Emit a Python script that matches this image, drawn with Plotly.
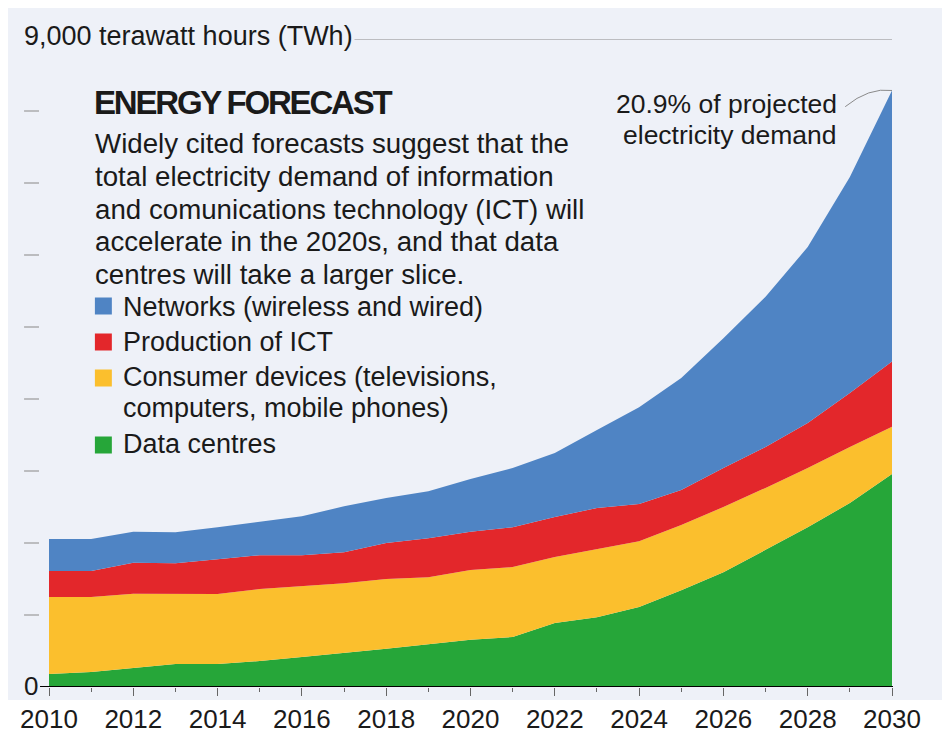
import plotly.graph_objects as go

# data (TWh)
years = list(range(2010, 2031))
data_centres = [180, 210, 265, 320, 320, 360, 415, 470, 530, 595, 655, 695, 890, 970, 1110, 1345, 1595, 1905, 2220, 2555, 2960]
consumer_devices = [1070, 1040, 1030, 970, 970, 1000, 985, 970, 970, 930, 970, 970, 915, 945, 915, 905, 905, 860, 820, 780, 655]
production_ict = [360, 360, 430, 430, 485, 470, 430, 430, 500, 540, 530, 555, 555, 570, 515, 485, 540, 570, 625, 750, 905]
networks = [445, 445, 430, 430, 445, 470, 540, 640, 625, 655, 735, 820, 890, 1085, 1345, 1555, 1805, 2085, 2445, 3000, 3765]

series_names = ["Data centres", "Consumer devices", "Production of ICT", "Networks"]
series_colors = ["#26A639", "#FBBF2D", "#E3272B", "#4F84C4"]

x_tick_years = list(range(2010, 2031, 2))
y_ticks = list(range(1000, 9000, 1000))

title = "ENERGY FORECAST"
intro_lines = [
    "Widely cited forecasts suggest that the",
    "total electricity demand of information",
    "and comunications technology (ICT) will",
    "accelerate in the 2020s, and that data",
    "centres will take a larger slice.",
]
legend_labels = [
    "Networks (wireless and wired)",
    "Production of ICT",
    "Consumer devices (televisions,",
    "computers, mobile phones)",
    "Data centres",
]
legend_colors = ["#4F84C4", "#E3272B", "#FBBF2D", "#26A639"]
note_lines = ["20.9% of projected", "electricity demand"]

BG = "#EEF1F8"
TXT = "#1a1a1a"
FONT = "Liberation Sans, Arial, sans-serif"

# the page adds an 8px margin around the figure
OFF = 8
W, H = 950 - OFF, 748 - OFF
L, T = 47 - OFF, 39 - OFF
PW, PH = 845, 648
R, B = W - L - PW, H - T - PH


def px(x):
    # page x -> paper
    return (x - OFF - L) / PW


def py(y):
    # page y -> paper
    return (H - B - (y - OFF)) / PH


fig = go.Figure()
for name, vals, col in zip(series_names, [data_centres, consumer_devices, production_ict, networks], series_colors):
    fig.add_trace(go.Scatter(x=years, y=vals, name=name, stackgroup="one", mode="lines",
                             line=dict(width=0, color=col), fillcolor=col, showlegend=False))

shapes = []
# white strip under the tinted panel
shapes.append(dict(type="rect", xref="paper", yref="paper", x0=px(-20), x1=px(970), y0=py(700), y1=py(770),
                   fillcolor="white", line_width=0, layer="below"))
# top 9,000 line
shapes.append(dict(type="line", xref="paper", yref="y", x0=px(60), x1=px(892), y0=9000, y1=9000,
                   line=dict(color="#8a8a8a", width=1.2)))
# y tick dashes
for v in y_ticks:
    shapes.append(dict(type="line", xref="paper", yref="y", x0=px(22), x1=px(37), y0=v, y1=v,
                       line=dict(color="#9a9a9a", width=1.2)))
# x axis line
shapes.append(dict(type="line", xref="paper", yref="y", x0=px(38), x1=px(893), y0=0, y1=0,
                   line=dict(color="black", width=2)))
# leader line for the 2030 note
shapes.append(dict(type="path", xref="x", yref="y", path="M 2028.89,8060 Q 2029.45,8330 2030,8285",
                   line=dict(color="#8a8a8a", width=1)))
# legend swatches
legend_y = [306, 342, 378, 445]
for c, yy in zip(legend_colors, legend_y):
    shapes.append(dict(type="rect", xref="paper", yref="paper", x0=px(93), x1=px(110), y0=py(yy - 8.5), y1=py(yy + 8.5),
                       fillcolor=c, line_width=0))

ann = []
ann.append(dict(text="9,000 terawatt hours (TWh)", x=px(20), y=py(36), xref="paper", yref="paper",
                xanchor="left", yanchor="middle", showarrow=False, bgcolor=BG, borderpad=1,
                font=dict(family=FONT, size=27, color=TXT)))
ann.append(dict(text="0", x=px(38), y=py(686), xref="paper", yref="paper", xanchor="right", yanchor="middle",
                showarrow=False, font=dict(family=FONT, size=26, color=TXT)))
ann.append(dict(text="<b><span style='letter-spacing:-2.2px'>" + title + "</span></b>", x=px(90), y=py(102.5),
                xref="paper", yref="paper", xanchor="left", yanchor="middle", showarrow=False,
                font=dict(family=FONT, size=33, color=TXT)))
intro_y = [143, 176, 209, 241.5, 274]
for line, yy in zip(intro_lines, intro_y):
    ann.append(dict(text=line, x=px(91), y=py(yy), xref="paper", yref="paper",
                    xanchor="left", yanchor="middle", showarrow=False,
                    font=dict(family=FONT, size=27.7, color=TXT)))
legend_text_y = [307, 341.5, 377, 408.5, 443.5]
for lab, yy in zip(legend_labels, legend_text_y):
    ann.append(dict(text=lab, x=px(119), y=py(yy), xref="paper", yref="paper",
                    xanchor="left", yanchor="middle", showarrow=False,
                    font=dict(family=FONT, size=27, color=TXT)))
for lab, yy in zip(note_lines, [104.5, 135]):
    ann.append(dict(text=lab, x=px(839), y=py(yy), xref="paper", yref="paper",
                    xanchor="right", yanchor="middle", showarrow=False,
                    font=dict(family=FONT, size=26.5, color=TXT)))

fig.update_layout(
    width=W, height=H,
    margin=dict(l=L, r=R, t=T, b=B),
    paper_bgcolor=BG, plot_bgcolor=BG,
    shapes=shapes, annotations=ann,
    xaxis=dict(range=[2010, 2030], showgrid=False, zeroline=False, showline=False,
               tickvals=x_tick_years, ticktext=[str(v) for v in x_tick_years],
               ticks="outside", ticklen=8, tickwidth=1.2, tickcolor="#666",
               minor=dict(ticks="outside", ticklen=4, tickwidth=1.2, tickcolor="#666", dtick=1, showgrid=False),
               tickfont=dict(family=FONT, size=26, color=TXT), ticklabelstandoff=1),
    yaxis=dict(range=[0, 9000], showgrid=False, zeroline=False, showline=False,
               showticklabels=False, ticks=""),
)

fig.write_html("out.html")
